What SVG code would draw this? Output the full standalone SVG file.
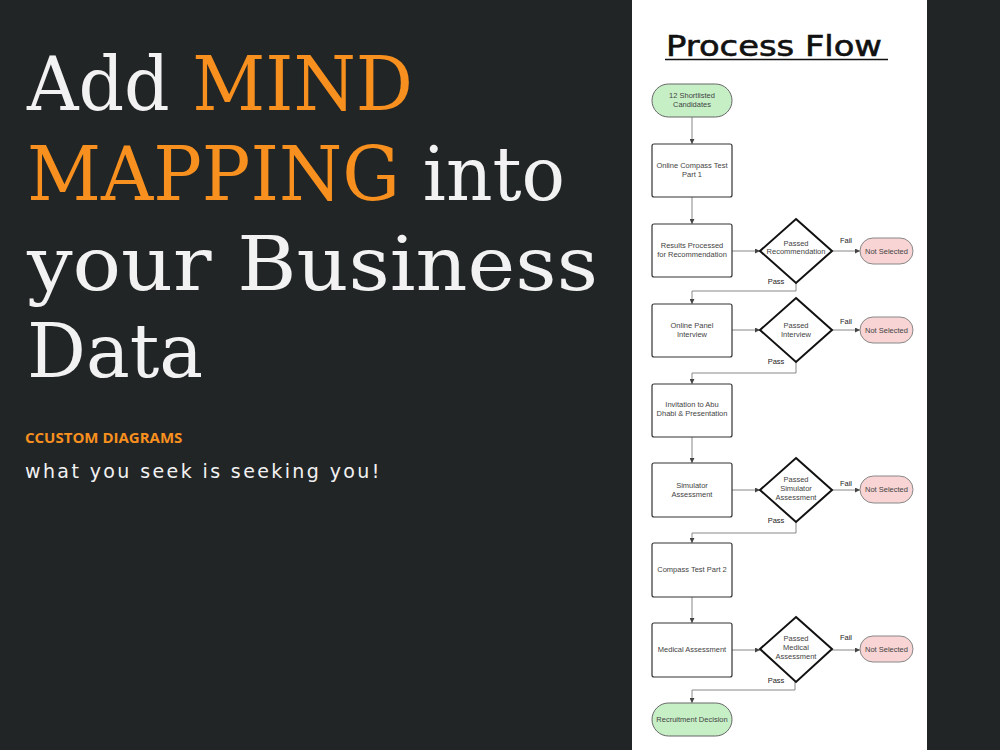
<svg xmlns="http://www.w3.org/2000/svg" width="1000" height="750" viewBox="0 0 1000 750">
<defs>
<style>
.big{font-family:"DejaVu Serif",serif;font-size:74px;fill:#f2f2f2;font-stretch:condensed}
.or{fill:#f7901e}
.box{fill:#fff;stroke:#333;stroke-width:1.2}
.dia{fill:#fff;stroke:#111;stroke-width:2}
.t{font-family:"Liberation Sans",Arial,sans-serif;font-size:7.5px;fill:#444;text-anchor:middle}
.lb{font-family:"Liberation Sans",Arial,sans-serif;font-size:7.5px;fill:#222;text-anchor:middle}
.g{fill:#c6efc6;stroke:#666;stroke-width:1}
.r{fill:#f9d4d4;stroke:#888;stroke-width:1}
.c{fill:none;stroke:#888;stroke-width:1;marker-end:url(#a)}
</style>
<marker id="a" viewBox="0 0 6 6" refX="6" refY="3" markerWidth="5" markerHeight="5" orient="auto"><path d="M0,0L6,3L0,6z" fill="#444"/></marker>
</defs>
<rect width="1000" height="750" fill="#222526"/>
<text class="big" x="27" y="110" textLength="386" lengthAdjust="spacingAndGlyphs">Add <tspan class="or">MIND</tspan></text>
<text class="big" x="27" y="200" textLength="538" lengthAdjust="spacingAndGlyphs"><tspan class="or">MAPPING</tspan> into</text>
<text class="big" x="27" y="290" textLength="571" lengthAdjust="spacingAndGlyphs">your Business</text>
<text class="big" x="27" y="377" textLength="176" lengthAdjust="spacingAndGlyphs">Data</text>
<text x="25" y="443" font-family="'Open Sans',sans-serif" font-weight="bold" font-size="15" fill="#f7901e">CCUSTOM DIAGRAMS</text>
<text x="25" y="478" font-family="'DejaVu Sans',sans-serif" font-size="19" fill="#f2f2f2" letter-spacing="0.6" textLength="355">what you seek is seeking you!</text>
<rect x="632" y="0" width="295" height="750" fill="#fff"/>
<text x="666" y="56" font-family="'DejaVu Sans',sans-serif" font-size="29" stroke="#111" stroke-width="0.6" fill="#111" textLength="216" lengthAdjust="spacingAndGlyphs">Process Flow</text>
<line x1="665" y1="59.500" x2="888" y2="59.500" stroke="#111" stroke-width="1.5"/>
<g id="connectors">
<path class="c" d="M692,117V144"/>
<path class="c" d="M692,197V224"/>
<path class="c" d="M732,251H760"/>
<path class="c" d="M832,251H860"/>
<path class="c" d="M796,283V291H692V304"/>
<path class="c" d="M732,330H760"/>
<path class="c" d="M832,330H860"/>
<path class="c" d="M796,362V373H692V384"/>
<path class="c" d="M692,437V463"/>
<path class="c" d="M732,490H760"/>
<path class="c" d="M832,490H860"/>
<path class="c" d="M796,522V533H692V543"/>
<path class="c" d="M692,597V623"/>
<path class="c" d="M732,650H760"/>
<path class="c" d="M832,650H860"/>
<path class="c" d="M795,682V690H692V703"/>
<text class="lb" x="846" y="243">Fail</text><text class="lb" x="776" y="284">Pass</text>
<text class="lb" x="846" y="324">Fail</text><text class="lb" x="776" y="364">Pass</text>
<text class="lb" x="846" y="486">Fail</text><text class="lb" x="776" y="523">Pass</text>
<text class="lb" x="846" y="640">Fail</text><text class="lb" x="776" y="683">Pass</text>
</g>
<g id="start"><rect class="g" x="652" y="84" width="80" height="33" rx="16.500"/><text class="t" x="692" y="98">12 Shortlisted</text><text class="t" x="692" y="107">Candidates</text></g>
<g id="n1"><rect class="box" x="652" y="144" width="80" height="53" rx="2"/><text class="t" x="692" y="168">Online Compass Test</text><text class="t" x="692" y="177">Part 1</text></g>
<g id="n2"><rect class="box" x="652" y="224" width="80" height="53" rx="2"/><text class="t" x="692" y="248">Results Processed</text><text class="t" x="692" y="257">for Recommendation</text></g>
<g id="d1"><path class="dia" d="M796,219L832,251L796,283L760,251Z"/><text class="t" x="796" y="246">Passed</text><text class="t" x="796" y="254">Recommendation</text></g>
<g id="x1"><rect class="r" x="860" y="238" width="53" height="26" rx="13"/><text class="t" x="886.500" y="253.500">Not Selected</text></g>
<g id="n3"><rect class="box" x="652" y="304" width="80" height="53" rx="2"/><text class="t" x="692" y="328">Online Panel</text><text class="t" x="692" y="337">Interview</text></g>
<g id="d2"><path class="dia" d="M796,298L832,330L796,362L760,330Z"/><text class="t" x="796" y="328">Passed</text><text class="t" x="796" y="337">Interview</text></g>
<g id="x2"><rect class="r" x="860" y="317" width="53" height="26" rx="13"/><text class="t" x="886.500" y="332.500">Not Selected</text></g>
<g id="n4"><rect class="box" x="652" y="384" width="80" height="53" rx="2"/><text class="t" x="692" y="407">Invitation to Abu</text><text class="t" x="692" y="416">Dhabi &amp; Presentation</text></g>
<g id="n5"><rect class="box" x="652" y="463" width="80" height="54" rx="2"/><text class="t" x="692" y="488">Simulator</text><text class="t" x="692" y="497">Assessment</text></g>
<g id="d3"><path class="dia" d="M796,458L832,490L796,522L760,490Z"/><text class="t" x="796" y="482">Passed</text><text class="t" x="796" y="491">Simulator</text><text class="t" x="796" y="500">Assessment</text></g>
<g id="x3"><rect class="r" x="860" y="476" width="53" height="27" rx="13.500"/><text class="t" x="886.500" y="492">Not Selected</text></g>
<g id="n6"><rect class="box" x="652" y="543" width="80" height="54" rx="2"/><text class="t" x="692" y="572">Compass Test Part 2</text></g>
<g id="n7"><rect class="box" x="652" y="623" width="80" height="54" rx="2"/><text class="t" x="692" y="652">Medical Assessment</text></g>
<g id="d4"><path class="dia" d="M796,617L832,649L796,682L760,649Z"/><text class="t" x="796" y="641">Passed</text><text class="t" x="796" y="650">Medical</text><text class="t" x="796" y="659">Assessment</text></g>
<g id="x4"><rect class="r" x="860" y="636" width="53" height="26" rx="13"/><text class="t" x="886.500" y="651.500">Not Selected</text></g>
<g id="end"><rect class="g" x="652" y="703" width="80" height="33" rx="16.500"/><text class="t" x="692" y="722">Recruitment Decision</text></g>
</svg>
